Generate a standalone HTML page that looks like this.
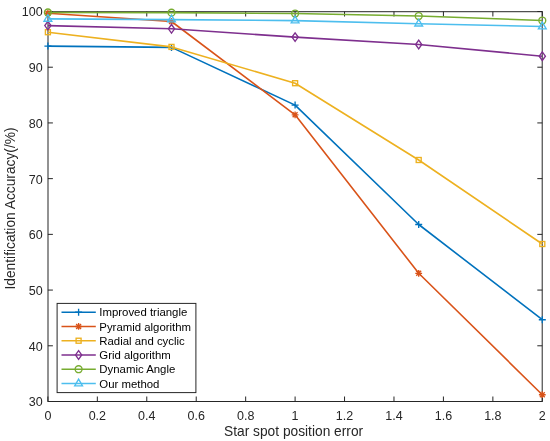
<!DOCTYPE html>
<html><head><meta charset="utf-8"><style>
html,body{margin:0;padding:0;background:#fff;width:550px;height:441px;overflow:hidden}
svg{display:block}
</style></head><body>
<svg width="550" height="441" viewBox="0 0 550 441"><rect x="48.0" y="11.7" width="494.20" height="389.80" fill="none" stroke="#262626" stroke-width="1"/>
<path d="M47.90 401.5V396.5M47.90 11.5V16.5M97.34 401.5V396.5M97.34 11.5V16.5M146.78 401.5V396.5M146.78 11.5V16.5M196.22 401.5V396.5M196.22 11.5V16.5M245.66 401.5V396.5M245.66 11.5V16.5M295.10 401.5V396.5M295.10 11.5V16.5M344.54 401.5V396.5M344.54 11.5V16.5M393.98 401.5V396.5M393.98 11.5V16.5M443.42 401.5V396.5M443.42 11.5V16.5M492.86 401.5V396.5M492.86 11.5V16.5M542.30 401.5V396.5M542.30 11.5V16.5M47.9 401.50H52.9M542.3 401.50H537.3M47.9 345.79H52.9M542.3 345.79H537.3M47.9 290.07H52.9M542.3 290.07H537.3M47.9 234.36H52.9M542.3 234.36H537.3M47.9 178.64H52.9M542.3 178.64H537.3M47.9 122.93H52.9M542.3 122.93H537.3M47.9 67.21H52.9M542.3 67.21H537.3M47.9 11.50H52.9M542.3 11.50H537.3" stroke="#262626" stroke-width="1" fill="none"/>
<polyline points="47.90,46.10 171.50,47.40 295.10,105.10 418.70,224.50 542.30,319.70" stroke="#0072BD" stroke-width="1.6" fill="none" stroke-linejoin="round"/>
<path d="M44.40 46.10H51.40M47.90 42.60V49.60" stroke="#0072BD" stroke-width="1.35" fill="none"/>
<path d="M168.00 47.40H175.00M171.50 43.90V50.90" stroke="#0072BD" stroke-width="1.35" fill="none"/>
<path d="M291.60 105.10H298.60M295.10 101.60V108.60" stroke="#0072BD" stroke-width="1.35" fill="none"/>
<path d="M415.20 224.50H422.20M418.70 221.00V228.00" stroke="#0072BD" stroke-width="1.35" fill="none"/>
<path d="M538.80 319.70H545.80M542.30 316.20V323.20" stroke="#0072BD" stroke-width="1.35" fill="none"/>
<polyline points="47.90,13.20 171.50,21.50 295.10,114.80 418.70,273.30 542.30,394.70" stroke="#D95319" stroke-width="1.6" fill="none" stroke-linejoin="round"/>
<path d="M44.50 13.20H51.30M47.90 9.80V16.60M45.45 10.75L50.35 15.65M45.45 15.65L50.35 10.75" stroke="#D95319" stroke-width="1.35" fill="none"/>
<path d="M168.10 21.50H174.90M171.50 18.10V24.90M169.05 19.05L173.95 23.95M169.05 23.95L173.95 19.05" stroke="#D95319" stroke-width="1.35" fill="none"/>
<path d="M291.70 114.80H298.50M295.10 111.40V118.20M292.65 112.35L297.55 117.25M292.65 117.25L297.55 112.35" stroke="#D95319" stroke-width="1.35" fill="none"/>
<path d="M415.30 273.30H422.10M418.70 269.90V276.70M416.25 270.85L421.15 275.75M416.25 275.75L421.15 270.85" stroke="#D95319" stroke-width="1.35" fill="none"/>
<path d="M538.90 394.70H545.70M542.30 391.30V398.10M539.85 392.25L544.75 397.15M539.85 397.15L544.75 392.25" stroke="#D95319" stroke-width="1.35" fill="none"/>
<polyline points="47.90,32.20 171.50,46.90 295.10,83.20 418.70,160.00 542.30,244.00" stroke="#EDB120" stroke-width="1.6" fill="none" stroke-linejoin="round"/>
<rect x="45.40" y="29.70" width="5.0" height="5.0" stroke="#EDB120" stroke-width="1.35" fill="none"/>
<rect x="169.00" y="44.40" width="5.0" height="5.0" stroke="#EDB120" stroke-width="1.35" fill="none"/>
<rect x="292.60" y="80.70" width="5.0" height="5.0" stroke="#EDB120" stroke-width="1.35" fill="none"/>
<rect x="416.20" y="157.50" width="5.0" height="5.0" stroke="#EDB120" stroke-width="1.35" fill="none"/>
<rect x="539.80" y="241.50" width="5.0" height="5.0" stroke="#EDB120" stroke-width="1.35" fill="none"/>
<polyline points="47.90,25.60 171.50,28.80 295.10,37.10 418.70,44.50 542.30,56.20" stroke="#7E2F8E" stroke-width="1.6" fill="none" stroke-linejoin="round"/>
<path d="M47.90 21.30L51.00 25.60L47.90 29.90L44.80 25.60Z" stroke="#7E2F8E" stroke-width="1.35" fill="none"/>
<path d="M171.50 24.50L174.60 28.80L171.50 33.10L168.40 28.80Z" stroke="#7E2F8E" stroke-width="1.35" fill="none"/>
<path d="M295.10 32.80L298.20 37.10L295.10 41.40L292.00 37.10Z" stroke="#7E2F8E" stroke-width="1.35" fill="none"/>
<path d="M418.70 40.20L421.80 44.50L418.70 48.80L415.60 44.50Z" stroke="#7E2F8E" stroke-width="1.35" fill="none"/>
<path d="M542.30 51.90L545.40 56.20L542.30 60.50L539.20 56.20Z" stroke="#7E2F8E" stroke-width="1.35" fill="none"/>
<polyline points="47.90,12.46 171.50,12.65 295.10,13.50 418.70,16.00 542.30,20.50" stroke="#77AC30" stroke-width="1.6" fill="none" stroke-linejoin="round"/>
<circle cx="47.90" cy="12.46" r="3.45" stroke="#77AC30" stroke-width="1.35" fill="none"/>
<circle cx="171.50" cy="12.65" r="3.45" stroke="#77AC30" stroke-width="1.35" fill="none"/>
<circle cx="295.10" cy="13.50" r="3.45" stroke="#77AC30" stroke-width="1.35" fill="none"/>
<circle cx="418.70" cy="16.00" r="3.45" stroke="#77AC30" stroke-width="1.35" fill="none"/>
<circle cx="542.30" cy="20.50" r="3.45" stroke="#77AC30" stroke-width="1.35" fill="none"/>
<polyline points="47.90,18.90 171.50,19.60 295.10,20.60 418.70,23.70 542.30,26.50" stroke="#4DBEEE" stroke-width="1.6" fill="none" stroke-linejoin="round"/>
<path d="M47.90 14.50L51.80 21.20L44.00 21.20Z" stroke="#4DBEEE" stroke-width="1.35" fill="none"/>
<path d="M171.50 15.20L175.40 21.90L167.60 21.90Z" stroke="#4DBEEE" stroke-width="1.35" fill="none"/>
<path d="M295.10 16.20L299.00 22.90L291.20 22.90Z" stroke="#4DBEEE" stroke-width="1.35" fill="none"/>
<path d="M418.70 19.30L422.60 26.00L414.80 26.00Z" stroke="#4DBEEE" stroke-width="1.35" fill="none"/>
<path d="M542.30 22.10L546.20 28.80L538.40 28.80Z" stroke="#4DBEEE" stroke-width="1.35" fill="none"/>
<g font-family="Liberation Sans, Arial, sans-serif" font-size="12.5" fill="#262626"><text x="42.6" y="406.40" text-anchor="end">30</text><text x="42.6" y="350.69" text-anchor="end">40</text><text x="42.6" y="294.97" text-anchor="end">50</text><text x="42.6" y="239.26" text-anchor="end">60</text><text x="42.6" y="183.54" text-anchor="end">70</text><text x="42.6" y="127.83" text-anchor="end">80</text><text x="42.6" y="72.11" text-anchor="end">90</text><text x="42.6" y="16.40" text-anchor="end">100</text><text x="47.90" y="419.5" text-anchor="middle">0</text><text x="97.34" y="419.5" text-anchor="middle">0.2</text><text x="146.78" y="419.5" text-anchor="middle">0.4</text><text x="196.22" y="419.5" text-anchor="middle">0.6</text><text x="245.66" y="419.5" text-anchor="middle">0.8</text><text x="295.10" y="419.5" text-anchor="middle">1</text><text x="344.54" y="419.5" text-anchor="middle">1.2</text><text x="393.98" y="419.5" text-anchor="middle">1.4</text><text x="443.42" y="419.5" text-anchor="middle">1.6</text><text x="492.86" y="419.5" text-anchor="middle">1.8</text><text x="542.30" y="419.5" text-anchor="middle">2</text></g>
<text x="293.60" y="436.2" text-anchor="middle" font-family="Liberation Sans, Arial, sans-serif" font-size="13.75" fill="#262626">Star spot position error</text>
<text transform="translate(15.2 208.50) rotate(-90)" text-anchor="middle" font-family="Liberation Sans, Arial, sans-serif" font-size="13.75" fill="#262626">Identification Accuracy(/%)</text>
<rect x="57.1" y="303.4" width="138.80" height="89.20" fill="#fff" stroke="#262626" stroke-width="1"/>
<path d="M61.5 312.20H95.8" stroke="#0072BD" stroke-width="1.6"/>
<path d="M75.10 312.20H82.10M78.60 308.70V315.70" stroke="#0072BD" stroke-width="1.35" fill="none"/>
<text x="99.3" y="316.40" font-family="Liberation Sans, Arial, sans-serif" font-size="11.4" fill="#000">Improved triangle</text>
<path d="M61.5 326.46H95.8" stroke="#D95319" stroke-width="1.6"/>
<path d="M75.20 326.46H82.00M78.60 323.06V329.86M76.15 324.01L81.05 328.91M76.15 328.91L81.05 324.01" stroke="#D95319" stroke-width="1.35" fill="none"/>
<text x="99.3" y="330.66" font-family="Liberation Sans, Arial, sans-serif" font-size="11.4" fill="#000">Pyramid algorithm</text>
<path d="M61.5 340.72H95.8" stroke="#EDB120" stroke-width="1.6"/>
<rect x="76.10" y="338.22" width="5.0" height="5.0" stroke="#EDB120" stroke-width="1.35" fill="none"/>
<text x="99.3" y="344.92" font-family="Liberation Sans, Arial, sans-serif" font-size="11.4" fill="#000">Radial and cyclic</text>
<path d="M61.5 354.98H95.8" stroke="#7E2F8E" stroke-width="1.6"/>
<path d="M78.60 350.68L81.70 354.98L78.60 359.28L75.50 354.98Z" stroke="#7E2F8E" stroke-width="1.35" fill="none"/>
<text x="99.3" y="359.18" font-family="Liberation Sans, Arial, sans-serif" font-size="11.4" fill="#000">Grid algorithm</text>
<path d="M61.5 369.24H95.8" stroke="#77AC30" stroke-width="1.6"/>
<circle cx="78.60" cy="369.24" r="3.45" stroke="#77AC30" stroke-width="1.35" fill="none"/>
<text x="99.3" y="373.44" font-family="Liberation Sans, Arial, sans-serif" font-size="11.4" fill="#000">Dynamic Angle</text>
<path d="M61.5 383.50H95.8" stroke="#4DBEEE" stroke-width="1.6"/>
<path d="M78.60 379.10L82.50 385.80L74.70 385.80Z" stroke="#4DBEEE" stroke-width="1.35" fill="none"/>
<text x="99.3" y="387.70" font-family="Liberation Sans, Arial, sans-serif" font-size="11.4" fill="#000">Our method</text></svg>
</body></html>
